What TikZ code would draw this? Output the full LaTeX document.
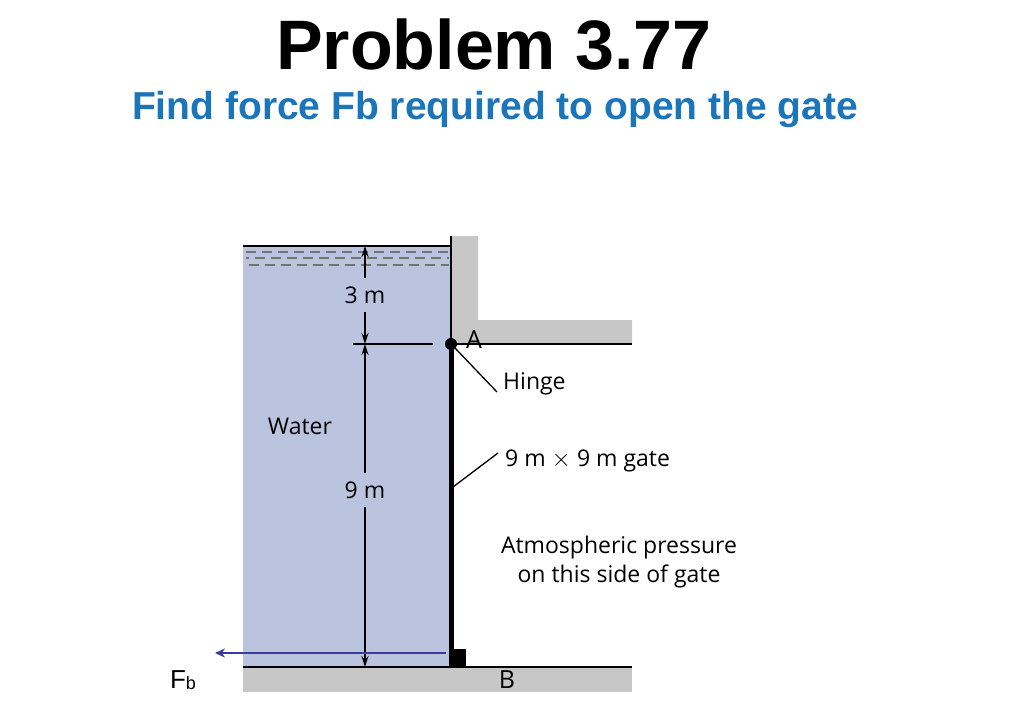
\documentclass[tikz,border=0pt]{standalone}
\usepackage{fontspec}
\usetikzlibrary{arrows.meta}
\setmainfont{Liberation Sans}
\newfontfamily\lbl{Open Sans}
\begin{document}
\begin{tikzpicture}[x=1pt,y=-1pt,
  lab/.style={font=\lbl\fontsize{23}{27}\selectfont,inner sep=0pt},
  dim/.style={line width=1.3pt,-{Stealth[length=11pt,width=7pt]}},
  wallfill/.style={fill=black!22}]
\useasboundingbox (0,0) rectangle (1024,704);
\node[font=\bfseries\fontsize{70}{80}\selectfont] (title) at (494,45) {Problem 3.77};
\node[font=\bfseries\fontsize{39}{44}\selectfont,text={rgb,255:red,26;green,117;blue,187}] (sub) at (495,109) {Find force Fb required to open the gate};
% water
\fill[fill={rgb,255:red,186;green,196;blue,223}] (243,246) rectangle (451,667);
\draw[line width=1.3pt] (243,246) -- (451,246);
\foreach \y/\o in {252/0,258/7,265/13}{
  \draw[black!55,line width=1.1pt,dash pattern=on 10pt off 6pt,dash phase=\o] (246,\y) -- (449,\y);}
% walls
\fill[wallfill] (451,236) -- (478,236) -- (478,320) -- (632,320) -- (632,344) -- (451,344) -- cycle;
\draw[line width=1.3pt] (451,236) -- (451,344) -- (632,344);
\fill[wallfill] (243,667) rectangle (632,692);
\draw[line width=1.3pt] (243,667) -- (632,667);
% gate
\draw[line width=5pt] (451,344) -- (451,667);
\fill (451,649) rectangle (466,667);
\coordinate (hinge) at (451,344);
\fill (hinge) circle (6);
% dimensions
\coordinate (d0) at (365,246); \coordinate (d1) at (365,344); \coordinate (d2) at (365,667);
\node[lab,inner sep=8pt] (t3) at (365,295) {3 m};
\node[lab,inner sep=8pt] (t9) at (365,490) {9 m};
\draw[dim] (t3.north) -- (d0);
\draw[dim] (t3.south) -- (d1);
\draw[dim] (t9.north) -- (d1);
\draw[dim] (t9.south) -- (d2);
\draw[line width=1.3pt] (353,344) -- (433,344);
% labels
\node[lab,font=\lbl\fontsize{25}{28}\selectfont] (A) at (474,340) {A};
\node[lab,font=\lbl\fontsize{25}{28}\selectfont] (B) at (507,680) {B};
\node[lab] (water) at (300,426) {Water};
\node[lab,anchor=west] (hl) at (503,384) {Hinge};
\draw[line width=1.3pt] (454,347) -- ([xshift=-6pt,yshift=-8pt]hl.west);
\node[lab,anchor=west] (gl) at (505,461) {9 m $\times$ 9 m gate};
\draw[line width=1.3pt] (453,487) -- ([xshift=-7pt,yshift=8pt]gl.west);
\node[lab,align=center] (atm) at (619,562) {Atmospheric pressure\\[2pt]on this side of gate};
% force
\coordinate (fs) at (446,653);
\coordinate (fe) at (215,653);
\draw[line width=2.2pt,draw={rgb,255:red,58;green,58;blue,160},-{Stealth[length=10pt,width=9pt]}] (fs) -- (fe);
\node[font=\fontsize{26}{30}\selectfont,inner sep=0pt] (fb) at (183,680) {F\raisebox{-1pt}{\fontsize{18}{20}\selectfont b}};
\end{tikzpicture}
\end{document}
